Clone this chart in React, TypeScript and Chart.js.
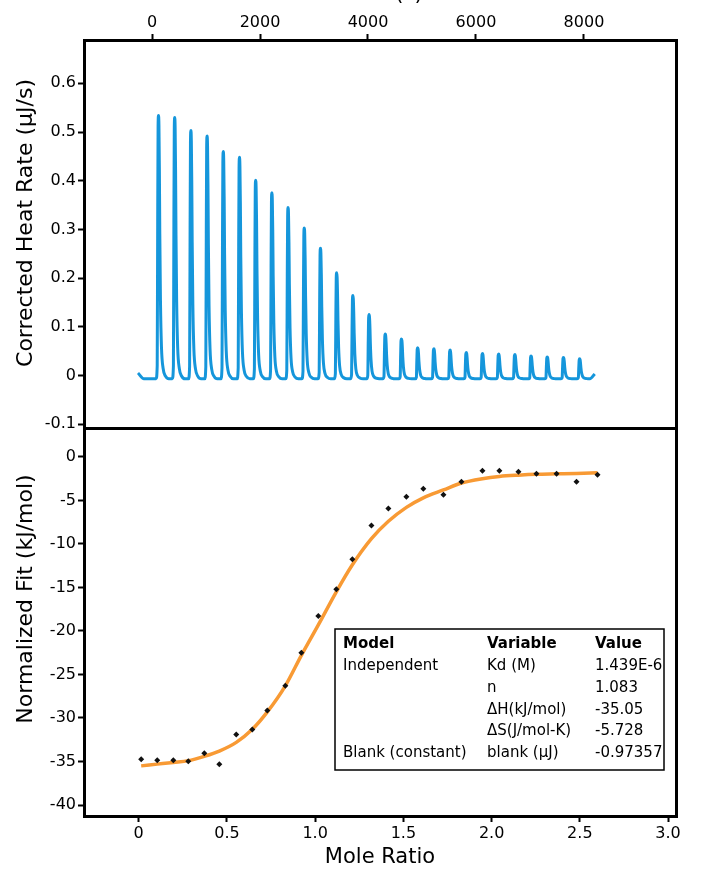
import React, { useEffect, useRef } from "react";
import { Chart, registerables } from "chart.js";
Chart.register(...registerables);

const FONT = "'DejaVu Sans', sans-serif";
const BLUE = "#1596DB";
const ORANGE = "#F89A34";

// ---------- top panel: thermogram ----------
const timeTicks = [0, 2000, 4000, 6000, 8000];
const timeTickLabels = ["0", "2000", "4000", "6000", "8000"];
const heatRateTicks = [-0.1, 0, 0.1, 0.2, 0.3, 0.4, 0.5, 0.6];
const heatRateTickLabels = ["-0.1", "0", "0.1", "0.2", "0.3", "0.4", "0.5", "0.6"];
const injectionTimes = [
  120, 420, 720, 1020, 1320, 1620, 1920, 2220, 2520, 2820, 3120, 3420, 3720, 4020,
  4320, 4620, 4920, 5220, 5520, 5820, 6120, 6420, 6720, 7020, 7320, 7620, 7920,
];
const peakHeights = [
  0.534, 0.53, 0.503, 0.492, 0.46, 0.448, 0.401, 0.375, 0.345, 0.303, 0.261, 0.211, 0.164, 0.125,
  0.085, 0.075, 0.057, 0.055, 0.052, 0.047, 0.045, 0.044, 0.043, 0.04, 0.038, 0.037, 0.034,
];
const baselineLevel = -0.007;
const traceStart = { x: -260, y: 0.005 };
const traceEnd = { x: 8200, y: 0.003 };
// peak profile: [seconds from peak top, fraction of peak height]
const peakShape: [number, number][] = [
  [-45, 0], [-24, 0.05], [-15, 0.6], [-8, 0.95], [0, 1], [8, 0.96], [16, 0.8], [24, 0.55], [36, 0.3],
  [55, 0.12], [85, 0.04], [130, 0.01], [190, 0],
];

// ---------- bottom panel: normalized fit ----------
const moleRatio = [
  0.014, 0.105, 0.196, 0.281, 0.372, 0.457, 0.553, 0.644, 0.729, 0.831, 0.922, 1.018, 1.12, 1.211,
  1.319, 1.415, 1.517, 1.613, 1.727, 1.829, 1.948, 2.044, 2.152, 2.254, 2.368, 2.481, 2.6,
];
const measuredHeat = [
  -34.74, -34.86, -34.86, -34.97, -34.06, -35.31, -31.89, -31.31, -29.14, -26.29, -22.51, -18.29, -15.2, -11.77,
  -7.89, -5.94, -4.57, -3.66, -4.34, -2.86, -1.6, -1.6, -1.71, -1.94, -1.94, -2.86, -2.06,
];
const fittedHeat = [
  -35.5, -35.3, -35.1, -34.9, -34.4, -33.8, -32.8, -31.3, -29.3, -26.3, -22.8, -19.3, -15.5, -12.4,
  -9.4, -7.4, -5.8, -4.7, -3.8, -3.0, -2.5, -2.25, -2.1, -2.0, -1.95, -1.9, -1.83,
];
const moleTicks = [0, 0.5, 1, 1.5, 2, 2.5, 3];
const moleTickLabels = ["0", "0.5", "1.0", "1.5", "2.0", "2.5", "3.0"];
const fitTicks = [0, -5, -10, -15, -20, -25, -30, -35, -40];
const fitTickLabels = ["0", "-5", "-10", "-15", "-20", "-25", "-30", "-35", "-40"];
const tableRows = [
  ["Model", "Variable", "Value"],
  ["Independent", "Kd (M)", "1.439E-6"],
  ["", "n", "1.083"],
  ["", "ΔH(kJ/mol)", "-35.05"],
  ["", "ΔS(J/mol-K)", "-5.728"],
  ["Blank (constant)", "blank (µJ)", "-0.97357"],
];

function buildTrace() {
  const pts: { x: number; y: number }[] = [traceStart, { x: traceStart.x + 110, y: baselineLevel }];
  injectionTimes.forEach((t, i) => {
    const h = peakHeights[i];
    peakShape.forEach(([dt, f]) => {
      pts.push({ x: t + dt, y: baselineLevel + f * (h - baselineLevel) });
    });
  });
  pts.push(traceEnd);
  return pts;
}

function axis(ticksArr: number[], labels: string[], extra: any) {
  return {
    type: "linear",
    afterBuildTicks: (s: any) => {
      s.ticks = ticksArr.map((v) => ({ value: v }));
    },
    ticks: {
      callback: (_v: any, i: number) => labels[i],
      font: { family: FONT, size: 16 },
      color: "#000",
      padding: 2,
      autoSkip: false,
      maxRotation: 0,
    },
    grid: { drawOnChartArea: false, drawTicks: true, tickLength: 6, tickWidth: 2, tickColor: "#000" },
    border: { display: false },
    ...extra,
  };
}

function framePlugin(drawTop: boolean) {
  return {
    id: "frame",
    afterDatasetsDraw(chart: any) {
      const { ctx, chartArea: a } = chart;
      const l = a.left + 0.5;
      const r = a.right + 0.5;
      const t = a.top + 0.5;
      const b = a.bottom + 0.5;
      ctx.save();
      ctx.strokeStyle = "#000";
      ctx.lineWidth = 3;
      ctx.lineCap = "square";
      ctx.beginPath();
      if (drawTop) {
        ctx.moveTo(l, b);
        ctx.lineTo(l, t);
        ctx.lineTo(r, t);
        ctx.lineTo(r, b);
        ctx.lineTo(l, b);
        ctx.closePath();
      } else {
        ctx.moveTo(l, t);
        ctx.lineTo(l, b);
        ctx.lineTo(r, b);
        ctx.lineTo(r, t);
      }
      ctx.stroke();
      ctx.restore();
    },
  };
}

function yTitlePlugin(text: string, offsetFromTop: number) {
  return {
    id: "ytitle",
    afterDraw(chart: any) {
      const { ctx, chartArea: a } = chart;
      ctx.save();
      ctx.translate(26, a.top + offsetFromTop);
      ctx.rotate(-Math.PI / 2);
      ctx.font = `22px ${FONT}`;
      ctx.fillStyle = "#000";
      ctx.textAlign = "center";
      ctx.textBaseline = "middle";
      ctx.fillText(text, 0, 0);
      ctx.restore();
    },
  };
}

const timeTitlePlugin = {
  id: "timetitle",
  afterDraw(chart: any) {
    const { ctx, chartArea: a } = chart;
    ctx.save();
    ctx.font = `21px ${FONT}`;
    ctx.fillStyle = "#000";
    ctx.textAlign = "center";
    ctx.textBaseline = "alphabetic";
    ctx.fillText("Time (s)", (a.left + a.right) / 2, 0);
    ctx.restore();
  },
};

const tablePlugin = {
  id: "table",
  afterDraw(chart: any) {
    const { ctx, chartArea: a } = chart;
    const left = a.left + 251;
    const top = a.top + 199;
    const w = 329;
    const h = 141;
    const cols = [8, 152, 260];
    ctx.save();
    ctx.fillStyle = "#fff";
    ctx.fillRect(left, top, w, h);
    ctx.strokeStyle = "#000";
    ctx.lineWidth = 1.5;
    ctx.strokeRect(left, top, w, h);
    ctx.fillStyle = "#000";
    ctx.textBaseline = "middle";
    ctx.textAlign = "left";
    tableRows.forEach((row, r) => {
      ctx.font = `${r === 0 ? "bold " : ""}15px ${FONT}`;
      row.forEach((cell, c) => {
        if (cell) ctx.fillText(cell, left + cols[c], top + 15 + r * 21.9);
      });
    });
    ctx.restore();
  },
};

export default function App() {
  const topRef = useRef<HTMLCanvasElement>(null);
  const botRef = useRef<HTMLCanvasElement>(null);

  useEffect(() => {
    Chart.defaults.color = "#000";
    const top = new Chart(topRef.current!, {
      type: "line",
      data: {
        datasets: [
          {
            data: buildTrace(),
            borderColor: BLUE,
            borderWidth: 3,
            pointRadius: 0,
            cubicInterpolationMode: "monotone",
            fill: false,
          },
        ],
      },
      options: {
        animation: false,
        responsive: false,
        parsing: false,
        layout: { padding: { left: 0, right: 31, top: 0, bottom: 4 } },
        plugins: { legend: { display: false }, tooltip: { enabled: false } },
        scales: {
          x: axis(timeTicks, timeTickLabels, {
            position: "top",
            min: -1260,
            max: 9705,
            afterFit: (s: any) => {
              s.height = 40;
              s.paddingLeft = 0;
              s.paddingRight = 0;
            },
          }),
          y: axis(heatRateTicks, heatRateTickLabels, {
            position: "left",
            min: -0.108,
            max: 0.689,
            afterFit: (s: any) => {
              s.width = 84;
              s.paddingTop = 0;
              s.paddingBottom = 0;
            },
          }),
        },
      } as any,
      plugins: [framePlugin(true), yTitlePlugin("Corrected Heat Rate (µJ/s)", 183), timeTitlePlugin],
    });

    const bot = new Chart(botRef.current!, {
      type: "line",
      data: {
        datasets: [
          {
            data: moleRatio.map((x, i) => ({ x, y: measuredHeat[i] })),
            showLine: false,
            pointStyle: "rectRot",
            pointRadius: 3,
            pointBackgroundColor: "#111",
            pointBorderWidth: 0,
          },
          {
            data: moleRatio.map((x, i) => ({ x, y: fittedHeat[i] })),
            borderColor: ORANGE,
            borderWidth: 3.5,
            pointRadius: 0,
            cubicInterpolationMode: "monotone",
            fill: false,
          },
        ],
      },
      options: {
        animation: false,
        responsive: false,
        parsing: false,
        layout: { padding: { left: 0, right: 31, top: 2, bottom: 0 } },
        plugins: { legend: { display: false }, tooltip: { enabled: false } },
        scales: {
          x: axis(moleTicks, moleTickLabels, {
            position: "bottom",
            min: -0.31,
            max: 3.045,
            title: {
              display: true,
              text: "Mole Ratio",
              font: { family: FONT, size: 21 },
              color: "#000",
              padding: { top: 0, bottom: 15 },
            },
            afterFit: (s: any) => {
              s.height = 69;
              s.paddingLeft = 0;
              s.paddingRight = 0;
            },
          }),
          y: axis(fitTicks, fitTickLabels, {
            position: "left",
            min: -41.26,
            max: 3.09,
            afterFit: (s: any) => {
              s.width = 84;
              s.paddingTop = 0;
              s.paddingBottom = 0;
            },
          }),
        },
      } as any,
      plugins: [framePlugin(false), yTitlePlugin("Normalized Fit (kJ/mol)", 169), tablePlugin],
    });

    return () => {
      top.destroy();
      bot.destroy();
    };
  }, []);

  return (
    <div style={{ position: "absolute", left: 0, top: 0, width: 707, height: 885, background: "#fff" }}>
      <canvas ref={topRef} width={707} height={432} style={{ position: "absolute", left: 0, top: 0 }} />
      <canvas ref={botRef} width={707} height={459} style={{ position: "absolute", left: 0, top: 426 }} />
    </div>
  );
}
